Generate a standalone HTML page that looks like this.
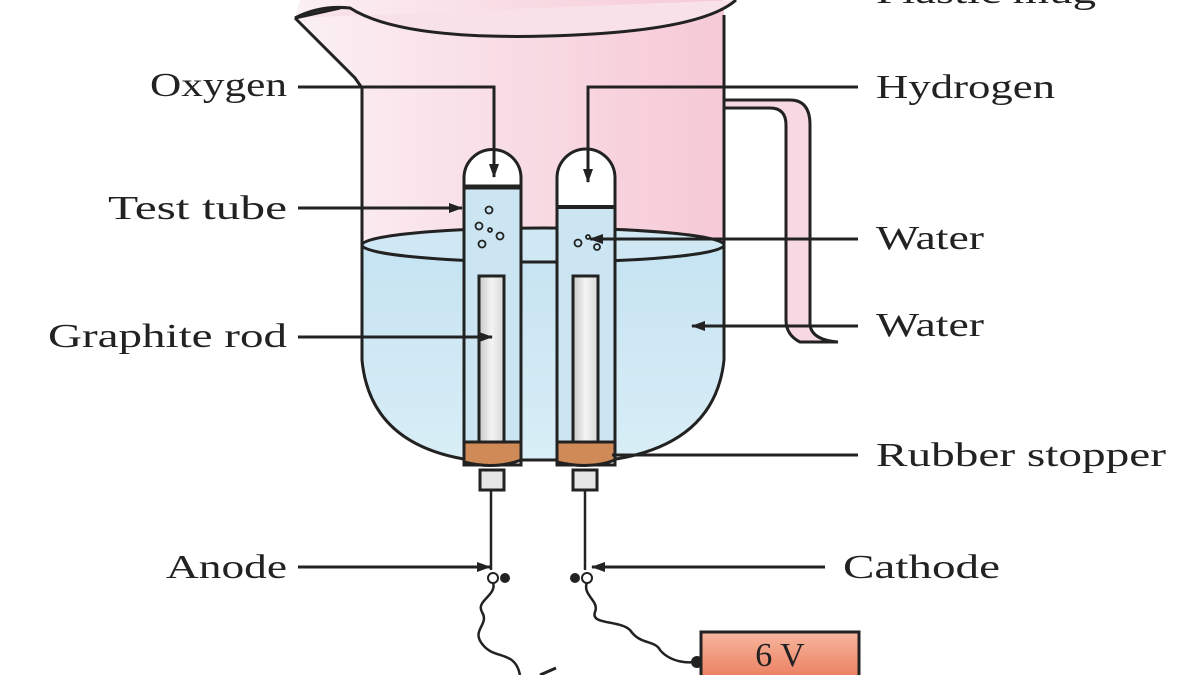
<!DOCTYPE html>
<html><head><style>
html,body{margin:0;padding:0;background:#fff;width:1200px;height:675px;overflow:hidden}
text{font-family:"Liberation Serif",serif;font-size:34px;fill:#222}
</style></head><body>
<svg width="1200" height="675" viewBox="0 0 1200 675" xmlns="http://www.w3.org/2000/svg">
<defs>
<linearGradient id="pk" x1="0" x2="1"><stop offset="0" stop-color="#fbf0f4"/><stop offset="1" stop-color="#f6c9d6"/></linearGradient>
<linearGradient id="bl" x1="0" x2="0" y1="0" y2="1"><stop offset="0" stop-color="#c5e3f1"/><stop offset="1" stop-color="#d9eef7"/></linearGradient>
<linearGradient id="rd" x1="0" x2="1"><stop offset="0" stop-color="#c8c8c8"/><stop offset="0.5" stop-color="#f4f4f4"/><stop offset="1" stop-color="#d8d8d8"/></linearGradient>
<linearGradient id="bat" x1="0" x2="0" y1="0" y2="1"><stop offset="0" stop-color="#f7b79e"/><stop offset="1" stop-color="#ea7a5c"/></linearGradient>
<marker id="ar" markerWidth="14" markerHeight="12" refX="13" refY="6" orient="auto" markerUnits="userSpaceOnUse"><path d="M0,1 L14,6 L0,11 Z" fill="#222"/></marker>
</defs>
<!-- handle -->
<path d="M724,100 L790,100 Q810,100 810,125 L810,325 Q812,340 838,342 L800,342 Q786,335 786,320 L786,125 Q786,108 770,108 L724,108 Z" fill="#f8d8e2" stroke="#222" stroke-width="3"/>
<!-- jug body -->
<path d="M295,18 L355,78 L362,88 L362,260 L724,260 L724,0 L300,0 Z" fill="url(#pk)"/>
<path d="M295,18 Q320,5 350,8 Q400,40 548,36 Q700,32 736,0" fill="#f9e1ea" stroke="#222" stroke-width="3"/>
<path d="M295,18 L355,78 L362,88 L362,250" fill="none" stroke="#222" stroke-width="3"/>
<path d="M295,18 L340,8" fill="none" stroke="#222" stroke-width="3"/>
<line x1="724" y1="15" x2="724" y2="250" stroke="#222" stroke-width="3"/>
<!-- basin -->
<path d="M362,245 L362,360 Q370,445 470,460 L610,460 Q715,445 724,360 L724,245 Z" fill="url(#bl)" stroke="#222" stroke-width="3"/>
<ellipse cx="543" cy="245" rx="181" ry="17" fill="#cfe8f3" stroke="#222" stroke-width="3"/>
<!-- tubes -->
<g stroke="#222" stroke-width="3">
<path d="M464,465 L464,178 A28.5,28.5 0 0 1 521,178 L521,465 Z" fill="#fff"/>
<rect x="465.5" y="187" width="54" height="275" fill="#cbe6f2" stroke="none"/>
<line x1="464" y1="187" x2="521" y2="187" stroke-width="5"/>
<path d="M557,465 L557,178 A29,29 0 0 1 615,178 L615,465 Z" fill="#fff"/>
<rect x="558.5" y="207" width="55" height="255" fill="#cbe6f2" stroke="none"/>
<line x1="557" y1="207" x2="615" y2="207" stroke-width="4"/>
<line x1="464" y1="180" x2="464" y2="465"/><line x1="521" y1="180" x2="521" y2="465"/>
<line x1="557" y1="180" x2="557" y2="465"/><line x1="615" y1="180" x2="615" y2="465"/>
<rect x="479" y="276" width="25" height="166" fill="url(#rd)"/>
<rect x="573" y="276" width="25" height="166" fill="url(#rd)"/>
<path d="M464,442 L521,442 L521,460 Q495,470 464,462 Z" fill="#cf8a58"/>
<path d="M557,442 L615,442 L615,460 Q590,470 557,462 Z" fill="#cf8a58"/>
<rect x="480" y="470" width="24" height="20" fill="#e6e6e6"/>
<rect x="573" y="470" width="24" height="20" fill="#e6e6e6"/>
</g>
<!-- bubbles -->
<g fill="none" stroke="#222" stroke-width="1.8">
<circle cx="489" cy="210" r="3.5"/><circle cx="479" cy="226" r="3.5"/><circle cx="490" cy="230" r="2"/><circle cx="500" cy="236" r="3.5"/><circle cx="482" cy="244" r="3.5"/>
<circle cx="578" cy="243" r="3.5"/><circle cx="588" cy="237" r="2"/><circle cx="597" cy="247" r="3"/>
</g>
<!-- wires -->
<g fill="none" stroke="#222" stroke-width="2.5">
<line x1="491" y1="490" x2="491" y2="570"/>
<line x1="585" y1="490" x2="585" y2="570"/>
<path d="M492,580 C500,595 475,600 482,612 C490,625 470,630 483,645 C495,660 515,650 520,675"/>
<path d="M588,580 C580,595 600,600 595,612 C590,625 620,620 630,630 C640,645 655,640 660,650 C670,662 690,665 700,660"/>
</g>
<circle cx="493" cy="578" r="5" fill="#fff" stroke="#222" stroke-width="2"/>
<circle cx="505" cy="578" r="5" fill="#222"/>
<circle cx="575" cy="578" r="5" fill="#222"/>
<circle cx="587" cy="578" r="5" fill="#fff" stroke="#222" stroke-width="2"/>
<circle cx="697" cy="662" r="6" fill="#222"/>
<path d="M540,675 L556,668" stroke="#222" stroke-width="3"/>
<!-- battery -->
<rect x="701" y="632" width="158" height="50" fill="url(#bat)" stroke="#222" stroke-width="3"/>
<text x="780" y="666" text-anchor="middle">6 V</text>
<!-- leader lines -->
<g stroke="#222" stroke-width="3" fill="none">
<path d="M298,87 L494,87 L494,177" marker-end="url(#ar)"/>
<path d="M858,87 L588,87 L588,182" marker-end="url(#ar)"/>
<path d="M298,208 L462,208" marker-end="url(#ar)"/>
<path d="M858,239 L590,239" marker-end="url(#ar)"/>
<path d="M298,337 L492,337" marker-end="url(#ar)"/>
<path d="M858,326 L692,326" marker-end="url(#ar)"/>
<path d="M858,455 L612,455"/>
<path d="M298,567 L490,567" marker-end="url(#ar)"/>
<path d="M825,567 L592,567" marker-end="url(#ar)"/>
</g>
<!-- labels -->
<text x="876" y="3" textLength="220" lengthAdjust="spacingAndGlyphs">Plastic mug</text>
<text x="150" y="96" textLength="137" lengthAdjust="spacingAndGlyphs">Oxygen</text>
<text x="876" y="98" textLength="179" lengthAdjust="spacingAndGlyphs">Hydrogen</text>
<text x="108" y="219" textLength="179" lengthAdjust="spacingAndGlyphs">Test tube</text>
<text x="876" y="249" textLength="108" lengthAdjust="spacingAndGlyphs">Water</text>
<text x="48" y="347" textLength="239" lengthAdjust="spacingAndGlyphs">Graphite rod</text>
<text x="876" y="336" textLength="108" lengthAdjust="spacingAndGlyphs">Water</text>
<text x="876" y="466" textLength="290" lengthAdjust="spacingAndGlyphs">Rubber stopper</text>
<text x="166" y="578" textLength="121" lengthAdjust="spacingAndGlyphs">Anode</text>
<text x="843" y="578" textLength="157" lengthAdjust="spacingAndGlyphs">Cathode</text>
</svg>
</body></html>
